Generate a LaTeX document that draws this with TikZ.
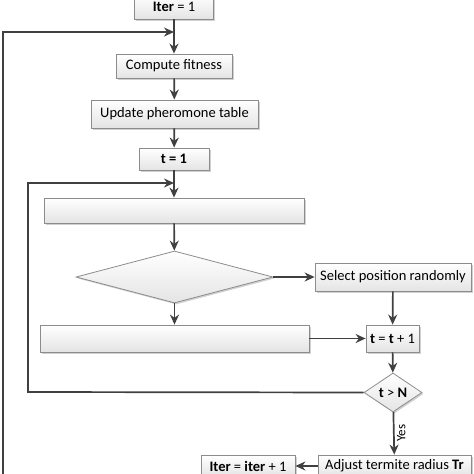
\documentclass[tikz,border=0pt]{standalone}
\usepackage{fontspec}
\setmainfont{Carlito}
\usepackage{tikz}
\usetikzlibrary{arrows.meta,positioning,calc,shapes.geometric,shadows}
\definecolor{boxline}{RGB}{140,140,140}
\definecolor{flowline}{RGB}{64,64,64}
\definecolor{boxtop}{RGB}{255,255,255}
\definecolor{boxbot}{RGB}{228,228,228}

\begin{document}
\begin{tikzpicture}[x=1pt,y=-1pt, every node/.style={font=\fontsize{14.5}{16}\selectfont},
  procbox/.style={draw=boxline,line width=0.8pt,top color=boxtop,bottom color=boxbot,inner sep=2pt,
    drop shadow={shadow xshift=1.5pt,shadow yshift=-1.5pt,fill=black!30,opacity=0.6}},
  decbox/.style={procbox,diamond,aspect=1.5,inner sep=0pt},
  flow/.style={-{Stealth[length=10pt,width=9pt]},draw=flowline,line width=1.7pt}]
\useasboundingbox (0,0) rectangle (474,474);
\clip (0,0) rectangle (474,474);
\node[procbox,minimum width=79pt,minimum height=24pt] (iter1) at (174,7) {\textbf{Iter} = 1};
\node[procbox,minimum width=116pt,minimum height=24pt] (fit) at (174,66) {Compute fitness};
\node[procbox,minimum width=167pt,minimum height=28pt] (phero) at (174.5,114) {Update pheromone table};
\node[procbox,minimum width=70pt,minimum height=22pt] (t1) at (174,159) {\textbf{t = 1}};
\node[procbox,minimum width=260pt,minimum height=25pt] (blank1) at (174,210.5) {};
\node[decbox,minimum width=197pt,minimum height=52pt] (dec) at (174.5,277) {};
\node[procbox,minimum width=156pt,minimum height=28pt] (sel) at (393,277) {Select position randomly};
\node[procbox,minimum width=269pt,minimum height=27pt] (blank2) at (174.5,338.5) {};
\node[procbox,minimum width=53pt,minimum height=27pt] (tinc) at (392.5,338.5) {\textbf{t} = \textbf{t} + 1};
\node[decbox,minimum width=58pt,minimum height=39pt] (tN) at (393,392.5) {\textbf{t} > \textbf{N}};
\node[procbox,minimum width=153pt,minimum height=22pt] (adj) at (394.5,466) {Adjust termite radius \textbf{Tr}};
\node[procbox,minimum width=94pt,minimum height=22pt] (iterinc) at (248,466) {\textbf{Iter} = \textbf{iter} + 1};
\coordinate (j1) at (174,32);
\coordinate (j2) at (174,183);
\coordinate (low) at (3,500);
\draw[flow] (iter1) -- (fit);
\draw[flow] (fit) -- (phero);
\draw[flow] (phero) -- (t1);
\draw[flow] (t1) -- (blank1);
\draw[flow] (blank1) -- (dec);
\draw[flow] (dec) -- (blank2);
\draw[flow] (dec.east) -- (sel);
\draw[flow] (sel) -- (tinc);
\draw[flow] (blank2) -- (tinc);
\draw[flow] (tinc) -- (tN);
\draw[flow] (tN) -- node[right=-1pt,rotate=90,anchor=north,font=\fontsize{13}{14}\selectfont]{Yes} (adj);
\draw[flow] (adj) -- (iterinc);
\draw[flow] (tN.west) -- ($(tN.west)!1!(28,392)$) |- (j2);
\draw[flow] (iterinc.south) |- (low) |- (j1);
\end{tikzpicture}
\end{document}
